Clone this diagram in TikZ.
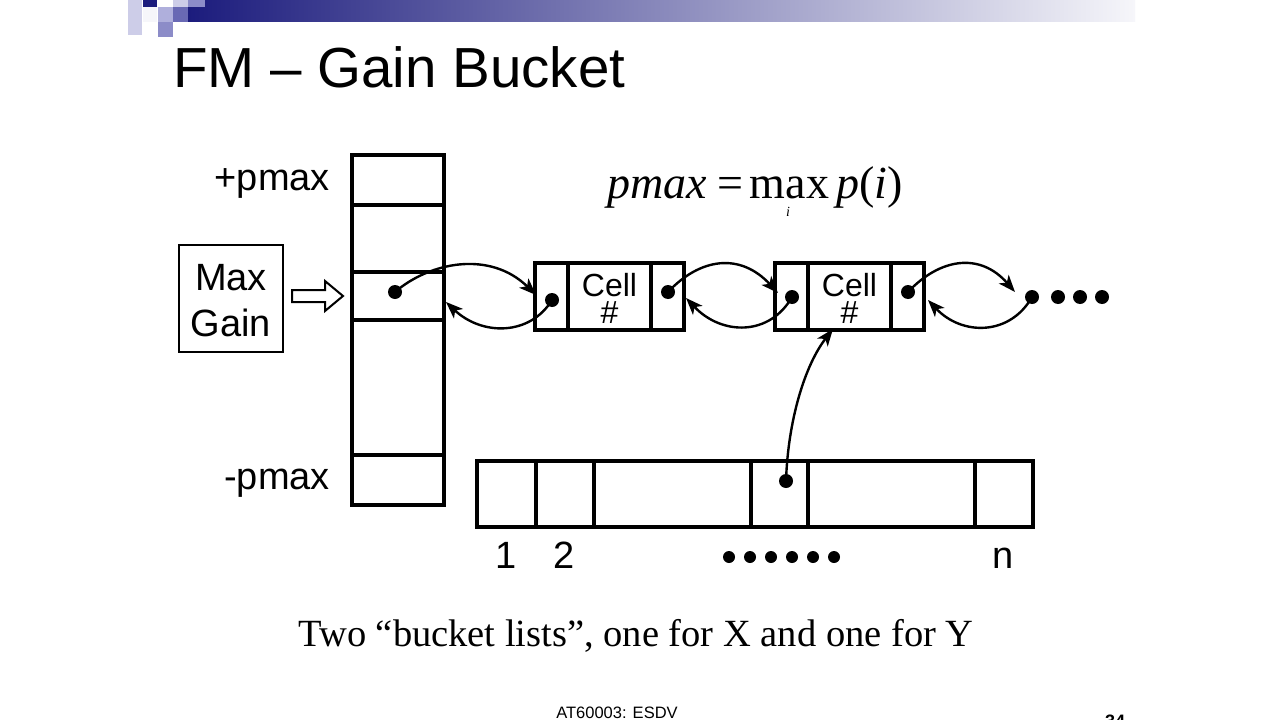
\documentclass[tikz,border=0pt]{standalone}
\usepackage{fontspec}
\setmainfont{Liberation Sans}
\newfontfamily\serif{Liberation Serif}
\usetikzlibrary{arrows.meta}
\definecolor{navy}{RGB}{28,28,125}
\definecolor{lav1}{RGB}{205,205,232}
\definecolor{lav2}{RGB}{175,175,220}
\definecolor{lav3}{RGB}{140,140,200}
\definecolor{lav4}{RGB}{105,105,180}
\definecolor{fade}{RGB}{246,246,250}
\tikzset{
  thickbox/.style={draw, line width=4pt},
  dotnode/.style={circle, fill=black, inner sep=0pt, minimum size=14pt},
  smalldot/.style={circle, fill=black, inner sep=0pt, minimum size=12pt},
  ptr/.style={line width=2.4pt, -{Stealth[length=17pt,width=13pt,inset=4.5pt]}},
  lbl/.style={font=\fontsize{38}{40}\selectfont, inner sep=0pt},
  celltxt/.style={font=\fontsize{32}{32}\selectfont, inner sep=0pt, anchor=base},
}
\begin{document}
\begin{tikzpicture}[x=1pt,y=-1pt]
\useasboundingbox[fill=white] (0,0) rectangle (1280,720);
% header decoration
\shade[left color=navy, right color=fade] (188,0) rectangle (1135,21);
\fill[lav1] (128,0) rectangle (142,35);
\fill[navy] (143,0) rectangle (157,7);
\fill[fade] (143,7) rectangle (157,22);
\fill[lav2] (158,7) rectangle (173,22);
\fill[lav3] (158,22) rectangle (173,37);
\fill[lav1] (173,0) rectangle (188,7);
\fill[lav4] (173,7) rectangle (188,22);
\fill[lav3] (188,0) rectangle (205,7);
% title
\node[anchor=base west, inner sep=0pt, font=\fontsize{56.5}{60}\selectfont] (title) at (173,87) {FM -- Gain Bucket};
% formula
\node[anchor=base, inner sep=0pt, font=\serif\fontsize{46}{48}\selectfont] (formula) at (755,198) {\textit{pmax}\hspace{10pt}=\hspace{7pt}max\hspace{7pt}\textit{p}(\textit{i})};
\node[inner sep=0pt, font=\serif\itshape\fontsize{14}{14}\selectfont] (sub) at (788,212) {i};
% column
\draw[line width=4pt] (352,155) rectangle (444,505);
\foreach \yy in {205,272,320,455} \draw[line width=4pt] (352,\yy) -- (444,\yy);
\node[lbl, anchor=base east] (pp) at (330,190) {+pmax};
\node[lbl, anchor=base east] (mp) at (330,489) {-pmax};
% max gain
\node[draw, line width=2pt, minimum width=104pt, minimum height=107pt, inner sep=0pt] (mg) at (231,298.5) {};
\node[lbl, anchor=base] (mgt1) at (231,290) {Max};
\node[lbl, anchor=base] (mgt2) at (231,336) {Gain};
\draw[line width=2pt, fill=white] (292,290) -- (325,290) -- (325,281) -- (343,296) -- (325,311) -- (325,302) -- (292,302) -- cycle;
% cells
\foreach \x/\n in {535/1,775/2}{
  \draw[line width=4pt] (\x,263) rectangle ({\x+149},330);
  \draw[line width=4pt] ({\x+33},263) -- ({\x+33},330);
  \draw[line width=4pt] ({\x+116},263) -- ({\x+116},330);
  \node[celltxt] (cell\n) at ({\x+74.5},296) {Cell};
  \node[celltxt] (hash\n) at ({\x+74.5},323) {\#};
}
% bottom array
\draw[line width=4pt] (477,461) rectangle (1033,527);
\foreach \x in {536,594,751,808,975} \draw[line width=4pt] (\x,461) -- (\x,527);
\node[lbl, anchor=base] (n1) at (506,568) {1};
\node[lbl, anchor=base] (n2) at (564,568) {2};
\node[lbl, anchor=base] (nn) at (1003,568) {n};
\foreach \x [count=\i] in {729,750,771,792,813,834} \node[smalldot] (bd\i) at (\x,557) {};
% dots
\node[dotnode] (d0) at (395,292) {};
\node[dotnode] (d1l) at (552,300) {};
\node[dotnode] (d1r) at (668,292) {};
\node[dotnode] (d2l) at (792,297) {};
\node[dotnode] (d2r) at (908,292) {};
\node[dotnode] (dend) at (1032,297) {};
\node[dotnode] (e1) at (1058,297) {};
\node[dotnode] (e2) at (1080,297) {};
\node[dotnode] (e3) at (1102,297) {};
\node[dotnode] (dar) at (786,481) {};
% arrow targets
\coordinate (t1) at (536,295);
\coordinate (t0) at (446,302);
\coordinate (t2) at (778,293);
\coordinate (t1r) at (686,298);
\coordinate (t3) at (1015,292);
\coordinate (t2r) at (928,300);
\coordinate (t4) at (833,329);
% arrows
\draw[ptr] (d0.center) .. controls (430,262) and (490,250) .. (t1);
\draw[ptr] (d1l.center) .. controls (530,336) and (482,336) .. (t0);
\draw[ptr] (d1r.center) .. controls (700,258) and (740,252) .. (t2);
\draw[ptr] (d2l.center) .. controls (770,336) and (722,336) .. (t1r);
\draw[ptr] (d2r.center) .. controls (940,258) and (980,252) .. (t3);
\draw[ptr] (dend.center) .. controls (1010,336) and (962,336) .. (t2r);
\draw[ptr] (dar.center) .. controls (788,420) and (805,365) .. (t4);
% caption
\node[anchor=base, inner sep=0pt, font=\serif\fontsize{38.5}{40}\selectfont] (cap) at (636,646) {Two “bucket lists”, one for X and one for Y};
% footer
\node[anchor=base, inner sep=0pt, font=\fontsize{16.5}{18}\selectfont] (foot) at (617,718) {AT60003: ESDV};
\node[anchor=base, inner sep=0pt, font=\bfseries\fontsize{18}{18}\selectfont] (pg) at (1115,727) {34};
\end{tikzpicture}
\end{document}
